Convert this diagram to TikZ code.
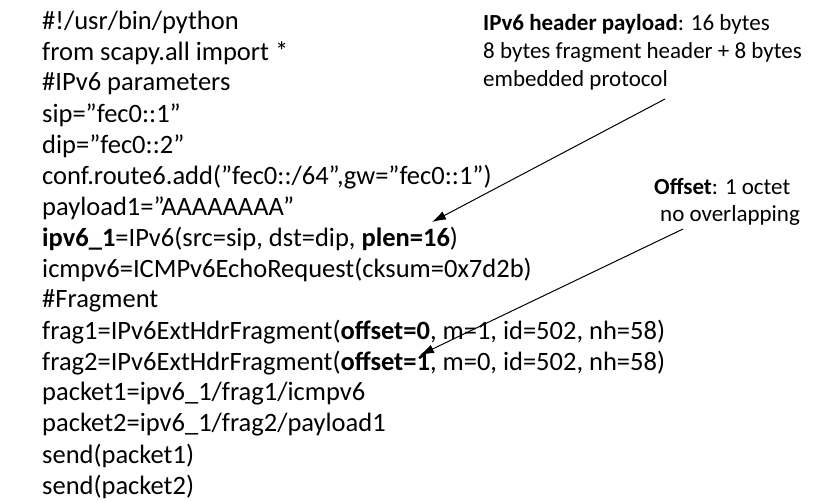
\documentclass[tikz,border=0pt]{standalone}
\usepackage{fontspec}
\setmainfont{Carlito}
\usetikzlibrary{arrows.meta}
\newcommand{\dq}{{\char34}}
\begin{document}
\begin{tikzpicture}[x=1pt,y=-1pt,
  code/.style={anchor=west,inner sep=0pt,font=\fontsize{26.5}{30}\selectfont},
  note/.style={anchor=west,inner sep=0pt,font=\fontsize{23}{26}\selectfont},
  arr/.style={-{Latex[length=14pt,width=9pt]},line width=1pt}]
\useasboundingbox (0,0) rectangle (825,501);
\foreach \t [count=\i] in {
 {\#!/usr/bin/python},
 {from scapy.all import *},
 {\#IPv6 parameters},
 {sip=\dq fec0::1\dq},
 {dip=\dq fec0::2\dq},
 {conf.route6.add(\dq fec0::/64\dq,gw=\dq fec0::1\dq)},
 {payload1=\dq AAAAAAAA\dq},
 {\textbf{ipv6\_1}=IPv6(src=sip, dst=dip, \textbf{plen=16})},
 {icmpv6=ICMPv6EchoRequest(cksum=0x7d2b)},
 {\#Fragment},
 {frag1=IPv6ExtHdrFragment(\textbf{offset=0}, m=1, id=502, nh=58)},
 {frag2=IPv6ExtHdrFragment(\textbf{offset=1}, m=0, id=502, nh=58)},
 {packet1=ipv6\_1/frag1/icmpv6},
 {packet2=ipv6\_1/frag2/payload1},
 {send(packet1)},
 {send(packet2)}}
 { \node[code] (l\i) at (42,{22+(\i-1)*31}) {\t}; }
\node[note] (n1) at (483,24) {\textbf{IPv6 header payload}: 16 bytes};
\node[note] (n2) at (483,52) {8 bytes fragment header + 8 bytes};
\node[note] (n3) at (483,80) {embedded protocol};
\node[note] (o1) at (654,187) {\textbf{Offset}: 1 octet};
\node[note] (o2) at (660,215) {no overlapping};
\coordinate (a1) at (432,222);
\coordinate (a2) at (420,355);
\draw[arr] (665,99) -- (a1);
\draw[arr] (683,229) -- (a2);
\end{tikzpicture}
\end{document}
